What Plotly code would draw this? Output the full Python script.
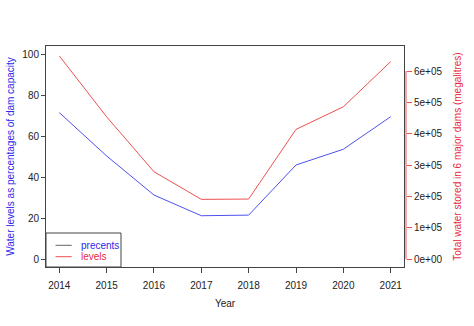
import plotly.graph_objects as go

years = [2014, 2015, 2016, 2017, 2018, 2019, 2020, 2021]
precents = [71.7, 50.5, 31.4, 21.3, 21.6, 46.1, 53.8, 69.7]
levels = [648000, 454000, 279000, 191000, 192000, 414000, 486000, 630000]
left_ticks = [0, 20, 40, 60, 80, 100]
right_ticks = [0, 100000, 200000, 300000, 400000, 500000, 600000]
right_labels = ["0e+00", "1e+05", "2e+05", "3e+05", "4e+05", "5e+05", "6e+05"]

FONT = "Liberation Sans, Arial, sans-serif"
BLUE_LINE = "#5050ee"
RED_LINE = "#ee5050"
BLUE_TXT = "#2a2ae8"
RED_TXT = "#e82a3c"
AX = "#444444"

fig = go.Figure()
fig.add_trace(go.Scatter(x=years, y=precents, mode="lines", name="precents",
                         line=dict(color=BLUE_LINE, width=1), showlegend=False))
fig.add_trace(go.Scatter(x=years, y=levels, mode="lines", name="levels", yaxis="y2",
                         line=dict(color=RED_LINE, width=1), showlegend=False))

fig.update_layout(
    width=474, height=326,
    margin=dict(l=46, r=68, t=46, b=59),
    paper_bgcolor="white", plot_bgcolor="white",
    font=dict(family=FONT, size=10, color="#222222"),
    showlegend=False,
    xaxis=dict(domain=[0, 358 / 360], range=[2013.719, 2021.281], automargin=False,
               tickvals=years, showgrid=False, zeroline=False,
               showline=True, mirror=True, linecolor=AX, linewidth=1,
               ticks="outside", ticklen=5, tickcolor=AX, tickwidth=1,
               ticklabelstandoff=4,
               tickfont=dict(size=10, color="#222222"),
               title=dict(text="Year", font=dict(size=10, color="#222222"), standoff=9)),
    yaxis=dict(range=[-3.76, 104.25], tickvals=left_ticks, showgrid=False, zeroline=False,
               automargin=False,
               showline=True, mirror=True, linecolor=AX, linewidth=1,
               ticks="outside", ticklen=4, tickcolor=AX, tickwidth=1,
               tickfont=dict(size=10, color="#222222"),
               title=dict(text="Water levels as percentages of dam capacity",
                          font=dict(size=10, color=BLUE_TXT), standoff=5)),
    yaxis2=dict(overlaying="y", anchor="free", position=1, side="right", automargin=False,
                range=[-24500, 679700], tickvals=right_ticks, ticktext=right_labels,
                showgrid=False, zeroline=False, showline=False,
                ticks="outside", ticklen=5, tickcolor=RED_LINE, tickwidth=1,
                tickfont=dict(size=10, color="#222222"),
                title=dict(text="Total water stored in 6 major dams (megalitres)",
                           font=dict(size=10, color=RED_TXT), standoff=12)),
)

# R-style right axis line spanning the tick range only
fig.add_shape(type="line", xref="paper", yref="y2", x0=1, x1=1,
              y0=right_ticks[0], y1=right_ticks[-1], line=dict(color=RED_LINE, width=1))

# manual legend box (R style)
fig.add_shape(type="rect", xref="paper", yref="paper", x0=0, x1=0.2083, y0=0, y1=0.1538,
              line=dict(color=AX, width=1), fillcolor="white")
legend_items = [("precents", "#666666", BLUE_TXT, 0.0982), ("levels", RED_LINE, RED_TXT, 0.0466)]
for name, lc, tc, yy in legend_items:
    fig.add_shape(type="line", xref="paper", yref="paper", x0=0.0264, x1=0.0714, y0=yy, y1=yy,
                  line=dict(color=lc, width=1))
    fig.add_annotation(xref="paper", yref="paper", x=0.0909, y=yy, text=name, showarrow=False,
                       xanchor="left", yanchor="middle", font=dict(size=10, color=tc))

fig.write_html("out.html")
